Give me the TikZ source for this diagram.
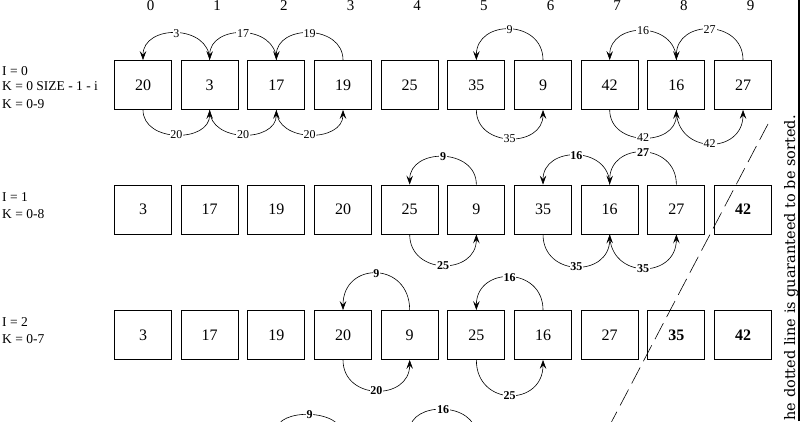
\documentclass[tikz,border=0pt]{standalone}
\usepackage{fontspec}
\setmainfont{Liberation Serif}
\newfontfamily\notefont{DejaVu Serif}
\usetikzlibrary{arrows.meta}

\begin{document}
\begin{tikzpicture}[x=1pt,y=1pt,
  cell/.style={draw, line width=0.8pt, minimum width=57pt, minimum height=49pt, inner sep=0pt, font=\fontsize{16}{16}\selectfont},
  swap/.style={line width=0.6pt, -{Stealth[length=9pt,width=6.5pt,inset=3.5pt]}},
  tag/.style={fill=white, inner sep=0.8pt, font=\fontsize{12}{12}\selectfont},
  btag/.style={tag, font=\fontsize{12}{12}\selectfont\bfseries},
  pass/.style={anchor=base west, inner sep=0pt, font=\fontsize{13.5}{16}\selectfont}]
\useasboundingbox (0,0) rectangle (803,421);
\clip (0,0) rectangle (803,421);

\foreach \i in {0,...,9}
  \node [anchor=base, font=\fontsize{15}{15}\selectfont] (i\i) at ({150.5+66.67*\i},410) {\i};

\node [pass] (p0) at (2,345) {I = 0};
\node [pass] (p0k) at (2,330) {K = 0 SIZE - 1 - i};
\node [pass] (p0r) at (2,312) {K = 0-9};
\node [pass] (p1) at (2,219) {I = 1};
\node [pass] (p1r) at (2,203) {K = 0-8};
\node [pass] (p2) at (2,95) {I = 2};
\node [pass] (p2r) at (2,78) {K = 0-7};

\foreach \v [count=\i from 0] in {20,3,17,19,25,35,9,42,16,27}
  \node [cell] (a\i) at ({143+66.67*\i},336) {\v};
\foreach \v [count=\i from 0] in {3,17,19,20,25,9,35,16,27,\textbf{42}}
  \node [cell] (b\i) at ({143+66.67*\i},211.5) {\v};
\foreach \v [count=\i from 0] in {3,17,19,20,9,25,16,27,\textbf{35},\textbf{42}}
  \node [cell] (c\i) at ({143+66.67*\i},86) {\v};
\foreach \i in {2,...,5}
  \coordinate (d\i) at ({143+66.67*\i},-15);

\draw [swap] (a1.north) to [out=90, in=90, distance=36pt] node [tag] {3} (a0.north);
\draw [swap] (a2.north) to [out=90, in=90, distance=36pt] node [tag] {17} (a1.north);
\draw [swap] (a3.north) to [out=90, in=90, distance=36pt] node [tag] {19} (a2.north);
\draw [swap] (a6.north) to [out=90, in=90, distance=41pt] node [tag] {9} (a5.north);
\draw [swap] (a8.north) to [out=90, in=90, distance=39pt] node [tag] {16} (a7.north);
\draw [swap] (a9.north) to [out=90, in=90, distance=41pt] node [tag] {27} (a8.north);
\draw [swap] (a0.south) to [out=-90, in=-90, distance=33pt] node [tag] {20} (a1.south);
\draw [swap] (a1.south) to [out=-90, in=-90, distance=33pt] node [tag] {20} (a2.south);
\draw [swap] (a2.south) to [out=-90, in=-90, distance=33pt] node [tag] {20} (a3.south);
\draw [swap] (a5.south) to [out=-90, in=-90, distance=38pt] node [tag] {35} (a6.south);
\draw [swap] (a7.south) to [out=-90, in=-90, distance=37pt] node [tag] {42} (a8.south);
\draw [swap] (a8.south) to [out=-90, in=-90, distance=45pt] node [tag] {42} (a9.south);

\draw [swap] (b5.north) to [out=90, in=90, distance=37pt] node [btag] {9} (b4.north);
\draw [swap] (b7.north) to [out=90, in=90, distance=39pt] node [btag] {16} (b6.north);
\draw [swap] (b8.north) to [out=90, in=90, distance=43pt] node [btag] {27} (b7.north);
\draw [swap] (b4.south) to [out=-90, in=-90, distance=41pt] node [btag] {25} (b5.south);
\draw [swap] (b6.south) to [out=-90, in=-90, distance=43pt] node [btag] {35} (b7.south);
\draw [swap] (b7.south) to [out=-90, in=-90, distance=45pt] node [btag] {35} (b8.south);

\draw [swap] (c4.north) to [out=90, in=90, distance=49pt] node [btag] {9} (c3.north);
\draw [swap] (c6.north) to [out=90, in=90, distance=44pt] node [btag] {16} (c5.north);
\draw [swap] (c3.south) to [out=-90, in=-90, distance=41pt] node [btag] {20} (c4.south);
\draw [swap] (c5.south) to [out=-90, in=-90, distance=47pt] node [btag] {25} (c6.south);

\draw [swap] (d3) to [out=90, in=90, distance=28pt] node [btag] {9} (d2);
\draw [swap] (d5) to [out=90, in=90, distance=35pt] node [btag] {16} (d4);

\coordinate (cuttop) at (768,297);
\coordinate (cutbot) at (602,-19);
\draw [line width=0.6pt, dash pattern=on 18pt off 7pt] (cuttop) -- (cutbot);

\draw [line width=1.8pt] (799,0) -- (799,421);
\node [rotate=90, anchor=base east, inner sep=0pt, font=\notefont\fontsize{14.5}{15}\selectfont] (note) at (795,306) {he dotted line is guaranteed to be sorted.};
\end{tikzpicture}
\end{document}
